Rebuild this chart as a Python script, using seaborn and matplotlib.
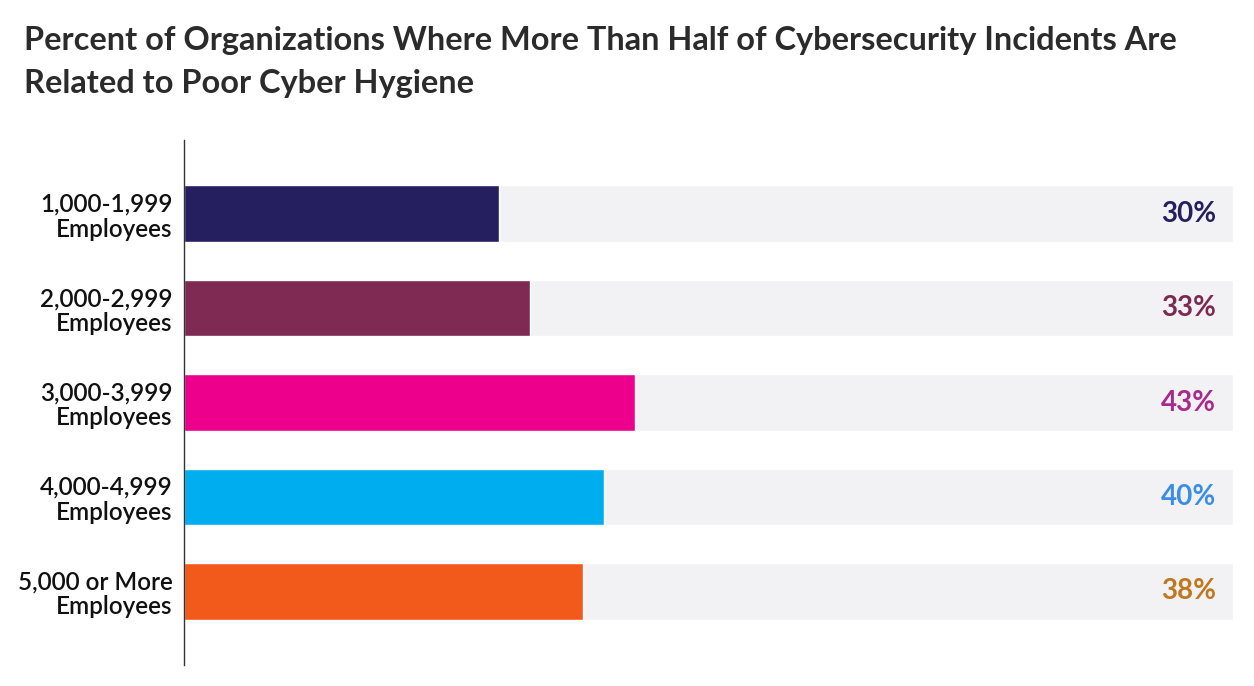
import pandas as pd
import seaborn as sns
import matplotlib.pyplot as plt

# data
categories = ["1,000-1,999\nEmployees", "2,000-2,999\nEmployees", "3,000-3,999\nEmployees",
              "4,000-4,999\nEmployees", "5,000 or More\nEmployees"]
values = [30, 33, 43, 40, 38]
totals = [100, 100, 100, 100, 100]
bar_colors = ["#251f60", "#7f2a52", "#ec008c", "#00aeef", "#f15a1b"]
label_colors = ["#261f5e", "#7d2a52", "#a82a8c", "#3a8ee6", "#c0781e"]

df = pd.DataFrame({"group": categories, "value": values, "total": totals})

sns.set_theme(style="white")
plt.rcParams["font.family"] = ["Lato", "DejaVu Sans"]

fig = plt.figure(figsize=(12.54, 6.86), dpi=100)
ax = fig.add_axes([0.1467, 0.0306, 0.8365, 0.7653])

# grey track behind each bar
sns.barplot(data=df, x="total", y="group", color="#f2f2f5", width=0.6, ax=ax)
sns.barplot(data=df, x="value", y="group", hue="group", palette=bar_colors,
            width=0.6, legend=False, ax=ax, saturation=1)

for i, v in enumerate(values):
    ax.text(98.4, i, f"{v}%", ha="right", va="center", fontsize=20,
            fontweight="bold", color=label_colors[i])

ax.set_xlim(0, 100)
ax.set_ylim(4.78, -0.78)
ax.set_xlabel("")
ax.set_ylabel("")
ax.set_xticks([])
for s in ["top", "right", "bottom"]:
    ax.spines[s].set_visible(False)
ax.spines["left"].set_color("#333333")
ax.spines["left"].set_linewidth(1)
ax.tick_params(axis="y", length=0, pad=8, labelsize=17.5, labelcolor="#111111")
for t in ax.get_yticklabels():
    t.set_horizontalalignment("right")
    t.set_linespacing(1.1)
    t.set_fontweight("semibold")

fig.text(0.019, 0.962, "Percent of Organizations Where More Than Half of Cybersecurity Incidents Are\nRelated to Poor Cyber Hygiene",
         ha="left", va="top", fontsize=23.4, fontweight="bold", color="#2b2b2b", linespacing=1.6)

fig.savefig("out.png", dpi=100)
